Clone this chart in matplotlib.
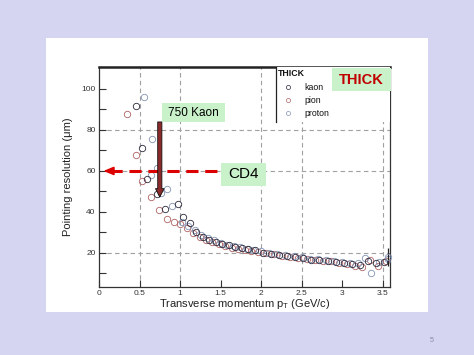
import matplotlib
matplotlib.use("Agg")
import matplotlib.pyplot as plt
from matplotlib.patches import Rectangle

plt.rcParams['font.family'] = ['Liberation Sans', 'DejaVu Sans']

# ---- data ----
pion_x = [0.34, 0.46, 0.53, 0.64, 0.74, 0.84, 0.92, 1.00, 1.08, 1.16, 1.24, 1.32, 1.40, 1.48, 1.56,
          1.64, 1.72, 1.80, 1.88, 1.96, 2.06, 2.16, 2.26, 2.36, 2.46, 2.56, 2.66, 2.76, 2.86, 2.96,
          3.06, 3.16, 3.24, 3.34, 3.44, 3.54]
pion_y = [87.8, 68.0, 55.2, 47.3, 40.8, 36.4, 35.3, 34.0, 32.0, 29.5, 28.0, 26.5, 25.5, 24.5, 23.5,
          22.5, 22.0, 21.3, 20.8, 20.3, 19.8, 19.3, 18.6, 18.0, 17.6, 17.2, 16.8, 16.3, 15.9, 15.3,
          14.6, 13.5, 13.2, 16.5, 13.8, 16.0]

kaon_x = [0.46, 0.53, 0.59, 0.71, 0.82, 0.97, 1.04, 1.12, 1.20, 1.28, 1.36, 1.44, 1.52, 1.60, 1.68,
          1.76, 1.84, 1.92, 2.02, 2.12, 2.22, 2.32, 2.42, 2.52, 2.62, 2.72, 2.82, 2.92, 3.02, 3.12,
          3.22, 3.32, 3.42, 3.52]
kaon_y = [91.9, 71.0, 56.0, 48.7, 41.3, 43.7, 37.7, 34.5, 30.4, 28.0, 26.3, 25.5, 24.5, 23.9, 23.1,
          22.6, 21.8, 21.5, 20.2, 19.6, 19.0, 18.4, 18.0, 17.4, 16.8, 16.4, 16.0, 15.7, 15.2, 14.8,
          14.3, 16.0, 15.2, 15.5]

proton_x = [0.555, 0.64, 0.65, 0.72, 0.77, 0.84, 0.90, 1.02, 1.10, 1.18, 1.26, 1.34, 1.42, 1.50, 1.58,
            1.66, 1.74, 1.82, 1.90, 2.00, 2.10, 2.20, 2.30, 2.40, 2.50, 2.60, 2.70, 2.80, 2.90, 3.00,
            3.10, 3.20, 3.28, 3.36, 3.46, 3.56]
proton_y = [96.0, 58.0, 75.5, 61.6, 49.1, 51.2, 42.8, 35.0, 33.0, 31.0, 29.0, 27.5, 26.3, 25.0, 24.0,
            23.5, 22.8, 22.0, 21.3, 20.8, 20.2, 19.5, 19.0, 18.4, 17.8, 17.3, 17.0, 16.6, 16.2, 15.8,
            15.0, 15.3, 17.5, 10.4, 15.5, 17.0]

outlier_x = [3.56]
outlier_y = [18.0]
outlier_err = [4.5]

x_ticks = [0, 0.5, 1, 1.5, 2, 2.5, 3, 3.5]
x_ticklabels = ["0", "0.5", "1", "1.5", "2", "2.5", "3", "3.5"]
y_ticks = [20, 40, 60, 80, 100]
y_ticklabels = ["20", "40", "60", "80", "100"]
y_minor = [10, 30, 50, 70, 90]
x_grid = [0.5, 1, 2, 2.5, 3.5]
y_grid = [20, 60, 80]

legend_title = "THICK"
legend_names = ["kaon", "pion", "proton"]

W, H = 474, 355
fig = plt.figure(figsize=(W / 100, H / 100), dpi=100)
fig.patch.set_facecolor('#d5d5f1')

def fx(px):
    return px / W

def fy(py):
    return 1 - py / H

# white slide area
fig.patches.append(Rectangle((fx(46), fy(312)), fx(428) - fx(46), fy(38) - fy(312),
                             transform=fig.transFigure, facecolor='white', edgecolor='none', zorder=-5))

ax = fig.add_axes([fx(99), fy(287), fx(390) - fx(99), fy(67) - fy(287)])
ax.set_zorder(1)
ax.set_xlim(0, 3.59)
ax.set_ylim(3.4, 110.7)
ax.set_facecolor('white')

for gx in x_grid:
    ax.axvline(gx, color='#a0a0a0', lw=0.8, ls=(0, (4, 3)), zorder=1)
for gy in y_grid:
    ax.axhline(gy, color='#a0a0a0', lw=0.8, ls=(0, (4, 3)), zorder=1)

ms = 4.6
mew = 0.6
c_kaon, c_pion, c_proton = '#2a2a3c', '#b06262', '#8494b4'
ax.plot(pion_x, pion_y, 'o', mfc='none', mec=c_pion, mew=mew, ms=ms, zorder=3)
ax.plot(proton_x, proton_y, 'o', mfc='none', mec=c_proton, mew=mew, ms=ms, zorder=3)
ax.plot(kaon_x, kaon_y, 'o', mfc='none', mec=c_kaon, mew=mew, ms=ms, zorder=4)
ax.errorbar(outlier_x, outlier_y, yerr=outlier_err, fmt='o', mfc='none', mec=c_proton,
            ecolor='#222222', elinewidth=0.9, ms=ms, mew=mew, zorder=4, clip_on=False)

ax.set_xticks(x_ticks)
ax.set_xticklabels(x_ticklabels)
ax.set_yticks(y_ticks)
ax.set_yticklabels(y_ticklabels)
ax.set_yticks(y_minor, minor=True)
ax.tick_params(axis='both', which='both', direction='in', labelsize=6, labelcolor='#333333',
               color='#333333', width=0.8)
ax.tick_params(axis='both', which='major', length=5)
ax.tick_params(axis='x', which='major', pad=2)
ax.tick_params(axis='y', which='major', pad=2.5)
ax.tick_params(axis='y', which='minor', length=5)
for s in ['left', 'bottom', 'right']:
    ax.spines[s].set_color('#333333')
    ax.spines[s].set_linewidth(0.9)
ax.spines['top'].set_color('#222222')
ax.spines['top'].set_linewidth(1.8)

ax.set_xlabel("Transverse momentum p$_\\mathregular{T}$ (GeV/c)", fontsize=8, color='#222222', labelpad=0.5)
ax.set_ylabel("Pointing resolution (\u03bcm)", fontsize=8, color='#222222', labelpad=6)

# legend box (top right)
lx0 = (276 - 99) / 291
ly0 = (287 - 122) / 220
ax.add_patch(Rectangle((lx0, ly0), 1 - lx0, 1 - ly0, transform=ax.transAxes,
                       facecolor='white', edgecolor='none', zorder=5))
ax.plot([lx0, lx0], [ly0, 1], transform=ax.transAxes, color='#222222', lw=0.9, zorder=6, clip_on=False)
fig.text(fx(278), fy(73), legend_title, fontsize=6.3, fontweight='bold', color='#111111',
         va='center', ha='left', zorder=7)
leg_colors = [c_kaon, c_pion, c_proton]
for i, (name, c) in enumerate(zip(legend_names, leg_colors)):
    yy = fy(87 + 13 * i)
    fig.add_artist(plt.Line2D([fx(288)], [yy], marker='o', mfc='none', mec=c, ms=3, mew=0.5,
                              transform=fig.transFigure, zorder=7))
    fig.text(fx(304), yy, name, fontsize=6.3, color='#111111', va='center', ha='left', zorder=7)

green = '#c9f2cb'
def gbox(x0, y0, x1, y1, txt, size, color='black', weight='normal'):
    fig.patches.append(Rectangle((fx(x0), fy(y1)), fx(x1) - fx(x0), fy(y0) - fy(y1),
                                 transform=fig.transFigure, facecolor=green, edgecolor='none', zorder=8))
    fig.text(fx((x0 + x1) / 2), fy((y0 + y1) / 2), txt, fontsize=size, color=color,
             fontweight=weight, ha='center', va='center', zorder=9)

gbox(332, 68, 391, 91, "THICK", 10.5, color='#c00000', weight='bold')
gbox(162, 103, 225, 122, "750 Kaon", 8.5)
gbox(221, 163, 266, 186, "CD4", 11)

# red dashed arrow at 60 um
ax.plot([0.13, 1.49], [60, 60], color='#dd0000', lw=2.2, ls=(0, (4, 2.2)), zorder=9, clip_on=False)
ax.annotate("", xy=(0.02, 60), xytext=(0.16, 60),
            arrowprops=dict(arrowstyle='-|>,head_length=0.6,head_width=0.25', color='#dd0000', lw=1.2),
            zorder=9, annotation_clip=False)

# vertical kaon arrow
ax.annotate("", xy=(0.75, 47.3), xycoords='data', xytext=(0.75, 83.9), textcoords='data',
            arrowprops=dict(arrowstyle='simple,head_length=0.6,head_width=0.62,tail_width=0.3',
                            fc='#8a2a2a', ec='#111111', lw=0.6, mutation_scale=10,
                            shrinkA=0, shrinkB=0),
            zorder=10, annotation_clip=False)

fig.text(fx(432), fy(340), "5", fontsize=5, color='#8888a0', ha='center', va='center')

fig.savefig("out.png", dpi=100, facecolor=fig.get_facecolor())
